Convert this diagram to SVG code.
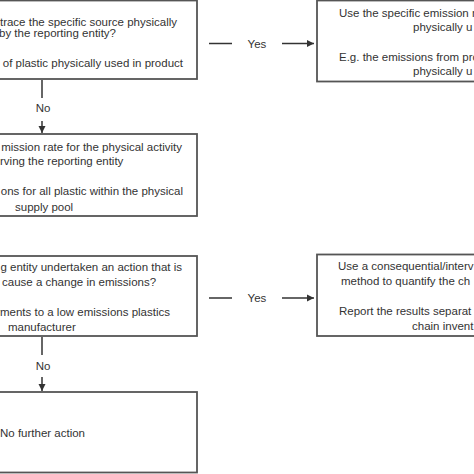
<svg xmlns="http://www.w3.org/2000/svg" width="474" height="474" viewBox="0 0 474 474">
<defs>
<marker id="ah" markerWidth="8" markerHeight="8" refX="7" refY="4" orient="auto" markerUnits="userSpaceOnUse">
<path d="M0,0.5 L7,4 L0,7.5 Z" fill="#333"/>
</marker>
<style>
.box{fill:#fff;stroke:#555;stroke-width:1.8}
.t{font-family:"Liberation Sans",Arial,sans-serif;font-size:11.5px;fill:#333}
.e{text-anchor:end}
.m{text-anchor:middle}
.c{stroke:#333;stroke-width:1.5;fill:none}
</style>
</defs>
<rect width="474" height="474" fill="#fff"/>
<g id="q1">
<rect class="box" x="-10" y="0.5" width="207" height="78.5"/>
<text class="t e" x="177" y="26">trace the specific source physically</text>
<text class="t" x="-1" y="37">by the reporting entity?</text>
<text class="t e" x="183" y="67">of plastic physically used in product</text>
</g>
<g id="a1">
<rect class="box" x="317" y="0.5" width="170" height="81"/>
<text class="t" x="339" y="17">Use the specific emission r</text>
<text class="t" x="413" y="31">physically u</text>
<text class="t" x="339" y="61">E.g. the emissions from pro</text>
<text class="t" x="413" y="75">physically u</text>
</g>
<g id="a2">
<rect class="box" x="-10" y="134" width="207" height="82"/>
<text class="t e" x="182" y="151">mission rate for the physical activity</text>
<text class="t" x="0" y="165">rving the reporting entity</text>
<text class="t e" x="183" y="195">ons for all plastic within the physical</text>
<text class="t" x="15" y="211">supply pool</text>
</g>
<g id="q2">
<rect class="box" x="-10" y="256" width="207" height="80"/>
<text class="t e" x="182" y="271">g entity undertaken an action that is</text>
<text class="t" x="2" y="286">cause a change in emissions?</text>
<text class="t e" x="170" y="316">rments to a low emissions plastics</text>
<text class="t" x="8" y="331">manufacturer</text>
</g>
<g id="a3">
<rect class="box" x="317" y="254.5" width="170" height="81.5"/>
<text class="t" x="338" y="270">Use a consequential/interv</text>
<text class="t" x="341" y="285">method to quantify the ch</text>
<text class="t" x="339" y="315">Report the results separat</text>
<text class="t" x="412" y="330">chain invent</text>
</g>
<g id="end">
<rect class="box" x="-10" y="392" width="207" height="80.5"/>
<text class="t" x="0" y="437">No further action</text>
</g>
<g id="connectors">
<line class="c" x1="209" y1="43.5" x2="232" y2="43.5"/>
<line class="c" x1="282" y1="43.5" x2="314" y2="43.5" marker-end="url(#ah)"/>
<text class="t m" x="257" y="48">Yes</text>
<line class="c" x1="42" y1="80" x2="42" y2="98"/>
<line class="c" x1="42" y1="121" x2="42" y2="133" marker-end="url(#ah)"/>
<text class="t m" x="43" y="112">No</text>
<line class="c" x1="209" y1="298" x2="232" y2="298"/>
<line class="c" x1="282" y1="298" x2="314" y2="298" marker-end="url(#ah)"/>
<text class="t m" x="257" y="302">Yes</text>
<line class="c" x1="42" y1="337" x2="42" y2="355"/>
<line class="c" x1="42" y1="377" x2="42" y2="391" marker-end="url(#ah)"/>
<text class="t m" x="43" y="370">No</text>
</g>
</svg>
